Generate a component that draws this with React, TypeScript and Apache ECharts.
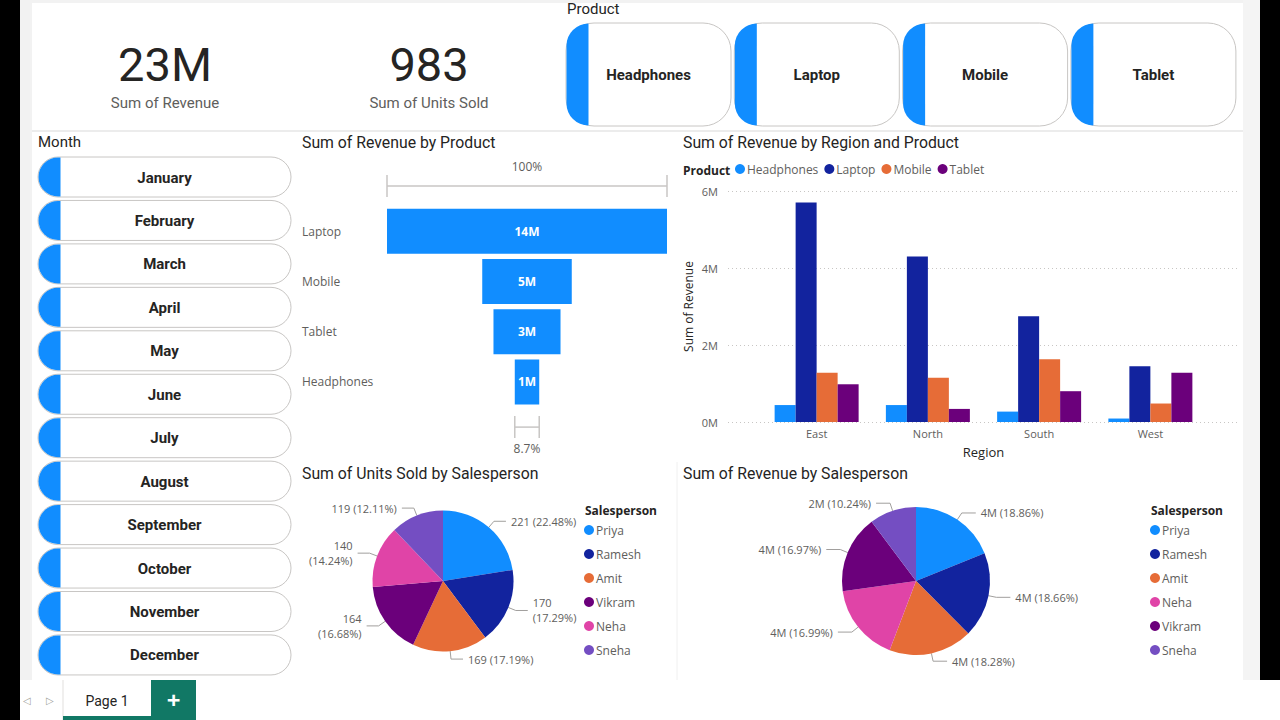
import React, { useEffect, useRef } from "react";
import * as echarts from "echarts";

// ---- data ----
const months = [
  "January", "February", "March", "April", "May", "June",
  "July", "August", "September", "October", "November", "December",
];
const products = ["Headphones", "Laptop", "Mobile", "Tablet"];
const regions = ["East", "North", "South", "West"];
// revenue in millions, per region (East, North, South, West)
const headphonesRevenue = [0.44, 0.44, 0.27, 0.09];
const laptopRevenue = [5.7, 4.3, 2.75, 1.45];
const mobileRevenue = [1.28, 1.15, 1.63, 0.48];
const tabletRevenue = [0.98, 0.34, 0.8, 1.28];
const revenueAxisMax = 6;
const revenueAxisStep = 2;

const unitsSalespeople = ["Priya", "Ramesh", "Amit", "Vikram", "Neha", "Sneha"];
const unitsSold = [221, 170, 169, 164, 140, 119];
const revenueSalespeople = ["Priya", "Ramesh", "Amit", "Neha", "Vikram", "Sneha"];
const revenueBySalesperson = [4.4095, 4.3627, 4.2739, 3.9723, 3.9676, 2.3941];

// ---- styling ----
const BLUE = "#118DFF";
const productColors: Record<string, string> = {
  Headphones: "#118DFF",
  Laptop: "#12239E",
  Mobile: "#E66C37",
  Tablet: "#6B007B",
};
const personColors: Record<string, string> = {
  Priya: "#118DFF",
  Ramesh: "#12239E",
  Amit: "#E66C37",
  Vikram: "#6B007B",
  Neha: "#E044A7",
  Sneha: "#744EC2",
};
const DARK = "#252423";
const GREY = "#605E5C";
const LINE = "#C8C6C4";
const HEAD_FONT = "Roboto, 'Noto Sans', sans-serif";
const BODY_FONT = "'Open Sans', 'Noto Sans', sans-serif";

const revenueByProduct: Record<string, number[]> = {
  Headphones: headphonesRevenue,
  Laptop: laptopRevenue,
  Mobile: mobileRevenue,
  Tablet: tabletRevenue,
};

const sum = (a: number[]) => a.reduce((s, v) => s + v, 0);

function buildOption() {
  // funnel: product totals, largest first
  const funnel = products
    .map((p) => ({ name: p, value: sum(revenueByProduct[p]) }))
    .sort((a, b) => b.value - a.value);
  const funnelNames = funnel.map((f) => f.name);
  const funnelValues = funnel.map((f) => f.value);
  const funnelMax = funnelValues[0];
  const lastPct = ((funnelValues[funnelValues.length - 1] / funnelMax) * 100).toFixed(1) + "%";

  const totalRevenue = sum(funnelValues);
  const totalUnits = sum(unitsSold);
  const totalPersonRevenue = sum(revenueBySalesperson);

  const graphic: any[] = [];
  // page frame
  graphic.push(
    { type: "rect", shape: { x: 0, y: 0, width: 1280, height: 720 }, style: { fill: "#ffffff" }, silent: true },
    { type: "rect", shape: { x: 20, y: 0, width: 12, height: 680 }, style: { fill: "#f2f2f2" }, silent: true },
    { type: "rect", shape: { x: 32, y: 0, width: 1211, height: 3 }, style: { fill: "#f2f2f2" }, silent: true },
    { type: "rect", shape: { x: 1243, y: 0, width: 17, height: 680 }, style: { fill: "#f4f4f4" }, silent: true },
    { type: "rect", shape: { x: 0, y: 0, width: 20, height: 720 }, style: { fill: "#000000" }, silent: true },
    { type: "rect", shape: { x: 1260, y: 0, width: 20, height: 680 }, style: { fill: "#000000" }, silent: true },
    { type: "line", shape: { x1: 32, y1: 131, x2: 1243, y2: 131 }, style: { stroke: "#e6e6e6", lineWidth: 1.5 }, silent: true },
    { type: "line", shape: { x1: 677, y1: 462, x2: 677, y2: 680 }, style: { stroke: "#f0f0f0", lineWidth: 1 }, silent: true }
  );

  // KPI cards
  const kpis = [
    { x: 165, value: Math.round(totalRevenue) + "M", label: "Sum of Revenue" },
    { x: 429, value: String(totalUnits), label: "Sum of Units Sold" },
  ];
  kpis.forEach((k) => {
    graphic.push(
      { type: "text", x: k.x, y: 64, style: { text: k.value, font: `400 47px ${HEAD_FONT}`, fill: DARK, align: "center", verticalAlign: "middle" } },
      { type: "text", x: k.x, y: 103, style: { text: k.label, font: `400 15px ${HEAD_FONT}`, fill: GREY, align: "center", verticalAlign: "middle" } }
    );
  });

  // Product slicer
  graphic.push({ type: "text", x: 567, y: 9, style: { text: "Product", font: `400 15px ${HEAD_FONT}`, fill: DARK, verticalAlign: "middle" } });
  products.forEach((p, i) => {
    const x = 566 + i * 168.3;
    const y = 23;
    const w = 165;
    const h = 103;
    graphic.push(
      { type: "rect", shape: { x, y, width: w, height: h, r: 28 }, style: { fill: "#fff", stroke: LINE, lineWidth: 1 } },
      { type: "rect", shape: { x: x + 0.5, y: y + 0.5, width: 22, height: h - 1, r: [28, 0, 0, 28] }, style: { fill: BLUE } },
      { type: "text", x: x + w / 2, y: y + h / 2, style: { text: p, font: `700 15px ${HEAD_FONT}`, fill: DARK, align: "center", verticalAlign: "middle" } }
    );
  });

  // Month slicer
  graphic.push({ type: "text", x: 38, y: 142, style: { text: "Month", font: `400 15px ${HEAD_FONT}`, fill: DARK, verticalAlign: "middle" } });
  months.forEach((m, i) => {
    const x = 38;
    const y = 157 + i * 43.45;
    const w = 253;
    const h = 40;
    graphic.push(
      { type: "rect", shape: { x, y, width: w, height: h, r: 20 }, style: { fill: "#fff", stroke: LINE, lineWidth: 1 } },
      { type: "rect", shape: { x: x + 0.5, y: y + 0.5, width: 22, height: h - 1, r: [19.5, 0, 0, 19.5] }, style: { fill: BLUE } },
      { type: "text", x: x + w / 2, y: y + h / 2 + 0.5, style: { text: m, font: `700 15px ${HEAD_FONT}`, fill: DARK, align: "center", verticalAlign: "middle" } }
    );
  });

  // visual titles
  const titles = [
    { x: 302, y: 142, t: "Sum of Revenue by Product" },
    { x: 683, y: 142, t: "Sum of Revenue by Region and Product" },
    { x: 302, y: 473, t: "Sum of Units Sold by Salesperson" },
    { x: 683, y: 473, t: "Sum of Revenue by Salesperson" },
  ];
  titles.forEach((t) =>
    graphic.push({ type: "text", x: t.x, y: t.y, style: { text: t.t, font: `400 15.8px ${HEAD_FONT}`, fill: DARK, verticalAlign: "middle" } })
  );

  // legend titles
  graphic.push(
    { type: "text", x: 683, y: 170, style: { text: "Product", font: `700 12px ${BODY_FONT}`, fill: DARK, verticalAlign: "middle" } },
    { type: "text", x: 585, y: 510, style: { text: "Salesperson", font: `700 12px ${BODY_FONT}`, fill: DARK, verticalAlign: "middle" } },
    { type: "text", x: 1151, y: 510, style: { text: "Salesperson", font: `700 12px ${BODY_FONT}`, fill: DARK, verticalAlign: "middle" } }
  );

  // page tabs
  graphic.push(
    { type: "rect", shape: { x: 20, y: 680, width: 1260, height: 40 }, style: { fill: "#ffffff" } },
    { type: "text", x: 27, y: 700, style: { text: "◁", font: `400 10px ${BODY_FONT}`, fill: "#a19f9d", align: "center", verticalAlign: "middle" } },
    { type: "text", x: 50, y: 700, style: { text: "▷", font: `400 10px ${BODY_FONT}`, fill: "#a19f9d", align: "center", verticalAlign: "middle" } },
    { type: "line", shape: { x1: 63, y1: 680, x2: 63, y2: 720 }, style: { stroke: "#e1dfdd", lineWidth: 1 } },
    { type: "rect", shape: { x: 63, y: 716, width: 88, height: 4 }, style: { fill: "#117865" } },
    { type: "text", x: 107, y: 701, style: { text: "Page 1", font: `400 14px ${HEAD_FONT}`, fill: DARK, align: "center", verticalAlign: "middle" } },
    { type: "rect", shape: { x: 151, y: 680, width: 45, height: 40 }, style: { fill: "#117865" } },
    { type: "text", x: 173.5, y: 699, style: { text: "+", font: `700 24px ${BODY_FONT}`, fill: "#ffffff", align: "center", verticalAlign: "middle" } }
  );

  const unitWrap = ["Ramesh", "Vikram", "Neha"];

  const axisLabelStyle = { color: GREY, fontSize: 11, fontFamily: BODY_FONT };
  const legendText = { color: GREY, fontSize: 12, fontFamily: BODY_FONT, padding: [0, 0, 0, -3] };

  return {
    animation: false,
    backgroundColor: "transparent",
    graphic: { elements: graphic },
    legend: [
      {
        data: products,
        left: 735,
        top: 163,
        icon: "circle",
        itemWidth: 10,
        itemHeight: 10,
        itemGap: 6,
        padding: 0,
        textStyle: legendText,
      },
      {
        data: unitsSalespeople,
        orient: "vertical",
        left: 584,
        top: 524,
        icon: "circle",
        itemWidth: 10,
        itemHeight: 10,
        itemGap: 12,
        padding: 0,
        textStyle: legendText,
      },
      {
        data: revenueSalespeople,
        orient: "vertical",
        left: 1150,
        top: 524,
        icon: "circle",
        itemWidth: 10,
        itemHeight: 10,
        itemGap: 12,
        padding: 0,
        textStyle: legendText,
      },
    ],
    grid: [
      { left: 387, width: 280, top: 206, height: 201 }, // funnel
      { left: 728, right: 43, top: 191, height: 231 }, // column chart gridlines
      { left: 761, right: 74, top: 191, height: 231 }, // column chart bars
    ],
    xAxis: [
      { type: "value", gridIndex: 0, min: 0, max: funnelMax, show: false },
      { type: "value", gridIndex: 1, show: false },
      {
        type: "category",
        gridIndex: 2,
        data: regions,
        axisLine: { show: false },
        axisTick: { show: false },
        axisLabel: { ...axisLabelStyle, margin: 6 },
        name: "Region",
        nameLocation: "middle",
        nameGap: 23,
        nameTextStyle: { color: DARK, fontSize: 13, fontFamily: BODY_FONT },
      },
    ],
    yAxis: [
      {
        type: "category",
        gridIndex: 0,
        data: funnelNames,
        inverse: true,
        axisLine: { show: false },
        axisTick: { show: false },
        axisLabel: { color: GREY, fontSize: 12, fontFamily: BODY_FONT, align: "left", margin: 85 },
      },
      {
        type: "value",
        gridIndex: 1,
        min: 0,
        max: revenueAxisMax,
        interval: revenueAxisStep,
        axisLine: { show: false },
        axisTick: { show: false },
        axisLabel: { ...axisLabelStyle, margin: 10, formatter: (v: number) => v + "M" },
        splitLine: { lineStyle: { color: LINE, type: [1, 3], width: 1 } },
        name: "Sum of Revenue",
        nameLocation: "middle",
        nameGap: 34,
        nameRotate: 90,
        nameTextStyle: { color: DARK, fontSize: 12, fontFamily: BODY_FONT },
      },
      { type: "value", gridIndex: 2, min: 0, max: revenueAxisMax, show: false },
    ],
    series: [
      // funnel as centred bars
      {
        type: "bar",
        xAxisIndex: 0,
        yAxisIndex: 0,
        stack: "funnel",
        silent: true,
        barWidth: 45,
        itemStyle: { color: "transparent" },
        data: funnelValues.map((v) => (funnelMax - v) / 2),
      },
      {
        type: "bar",
        xAxisIndex: 0,
        yAxisIndex: 0,
        stack: "funnel",
        barWidth: 45,
        itemStyle: { color: BLUE },
        label: {
          show: true,
          position: "inside",
          color: "#fff",
          fontWeight: "bold",
          fontSize: 12,
          fontFamily: BODY_FONT,
          formatter: (p: any) => Math.round(p.value) + "M",
        },
        data: funnelValues,
      },
      // first / last width brackets
      {
        type: "custom",
        xAxisIndex: 0,
        yAxisIndex: 0,
        silent: true,
        data: [[0, 0], [0, funnelNames.length - 1]],
        encode: { x: 0, y: 1 },
        renderItem: (params: any, api: any) => {
          const top = params.dataIndex === 0;
          const cat = top ? 0 : funnelValues.length - 1;
          const v = funnelValues[cat];
          const off = (funnelMax - v) / 2;
          const a = api.coord([off, cat]);
          const b = api.coord([off + v, cat]);
          const band = api.size([0, 1])[1];
          const y = a[1] + (top ? -1 : 1) * band * 0.9;
          const ls = { stroke: LINE, lineWidth: 1.5 };
          return {
            type: "group",
            children: [
              { type: "line", shape: { x1: a[0], y1: y, x2: b[0], y2: y }, style: ls },
              { type: "line", shape: { x1: a[0], y1: y - 11, x2: a[0], y2: y + 11 }, style: ls },
              { type: "line", shape: { x1: b[0], y1: y - 11, x2: b[0], y2: y + 11 }, style: ls },
              {
                type: "text",
                x: (a[0] + b[0]) / 2,
                y: y + (top ? -19 : 21),
                style: { text: top ? "100%" : lastPct, align: "center", verticalAlign: "middle", fill: GREY, fontSize: 12, fontFamily: BODY_FONT },
              },
            ],
          };
        },
      },
      // clustered columns
      ...products.map((p) => ({
        type: "bar",
        name: p,
        xAxisIndex: 2,
        yAxisIndex: 2,
        barWidth: 21,
        barGap: "0%",
        itemStyle: { color: productColors[p] },
        data: revenueByProduct[p],
      })),
      // units pie
      {
        type: "pie",
        name: "Units",
        center: [443, 581],
        radius: 70.5,
        startAngle: 90,
        clockwise: true,
        color: unitsSalespeople.map((n) => personColors[n]),
        label: {
          color: GREY,
          fontSize: 11,
          fontFamily: BODY_FONT,
          lineHeight: 15,
          formatter: (p: any) =>
            p.value +
            (unitWrap.includes(p.name) ? "\n" : " ") +
            "(" + ((p.value / totalUnits) * 100).toFixed(2) + "%)",
        },
        labelLine: { length: 8, length2: 12, lineStyle: { color: "#a19f9d", width: 1 } },
        data: unitsSalespeople.map((n, i) => ({ name: n, value: unitsSold[i] })),
      },
      // revenue pie
      {
        type: "pie",
        name: "Revenue",
        center: [916, 581],
        radius: 74,
        startAngle: 90,
        clockwise: true,
        color: revenueSalespeople.map((n) => personColors[n]),
        label: {
          color: GREY,
          fontSize: 11,
          fontFamily: BODY_FONT,
          formatter: (p: any) =>
            Math.round(p.value) + "M (" + ((p.value / totalPersonRevenue) * 100).toFixed(2) + "%)",
        },
        labelLine: { length: 8, length2: 14, lineStyle: { color: "#a19f9d", width: 1 } },
        data: revenueSalespeople.map((n, i) => ({ name: n, value: revenueBySalesperson[i] })),
      },
    ],
  };
}

export default function App() {
  const ref = useRef<HTMLDivElement>(null);
  useEffect(() => {
    const chart = echarts.init(ref.current!, null, { renderer: "svg" });
    chart.setOption(buildOption() as any);
    return () => chart.dispose();
  }, []);
  return (
    <div
      ref={ref}
      style={{ position: "fixed", left: 0, top: 0, width: 1280, height: 720, background: "#fff" }}
    />
  );
}
